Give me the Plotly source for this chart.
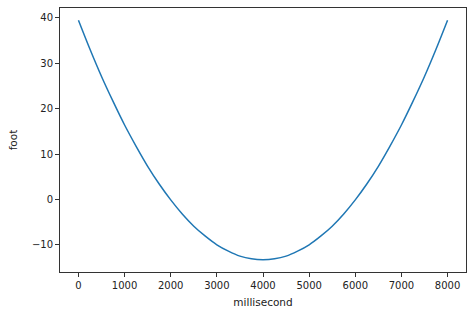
import plotly.graph_objects as go

ms = [0, 250, 500, 750, 1000, 1250, 1500, 1750, 2000, 2250, 2500, 2750, 3000, 3250, 3500, 3750,
      4000, 4250, 4500, 4750, 5000, 5250, 5500, 5750, 6000, 6250, 6500, 6750, 7000, 7250, 7500, 7750, 8000]
foot = [39.5, 33.1, 27.1, 21.6, 16.4, 11.7, 7.3, 3.4, -0.1, -3.2, -5.9, -8.1, -10.0, -11.4, -12.5, -13.1,
        -13.3, -13.1, -12.5, -11.4, -10.0, -8.1, -5.9, -3.2, -0.1, 3.4, 7.3, 11.7, 16.4, 21.6, 27.1, 33.1, 39.5]

xticks = [0, 1000, 2000, 3000, 4000, 5000, 6000, 7000, 8000]
yticks = [-10, 0, 10, 20, 30, 40]

fig = go.Figure(go.Scatter(x=ms, y=foot, mode="lines", line=dict(color="#1f77b4", width=1.5, shape="spline")))

axis_common = dict(showgrid=False, zeroline=False, showline=True, mirror=True, linecolor="#333333", linewidth=1,
                   ticks="outside", ticklen=4, tickcolor="#333333", tickfont=dict(family="DejaVu Sans", size=10, color="#222222"))

fig.update_layout(
    width=474, height=317,
    margin=dict(l=60, r=8, t=8, b=45),
    paper_bgcolor="white", plot_bgcolor="white",
    showlegend=False,
    font=dict(family="DejaVu Sans", size=10, color="#222222"),
    xaxis=dict(range=[-400, 8400], tickvals=xticks, title=dict(text="millisecond", standoff=8,
               font=dict(family="DejaVu Sans", size=10.5)), **axis_common),
    yaxis=dict(range=[-16, 42.2], tickvals=yticks, title=dict(text="foot", standoff=12,
               font=dict(family="DejaVu Sans", size=10.5)), **axis_common),
)

fig.write_html("out.html")
